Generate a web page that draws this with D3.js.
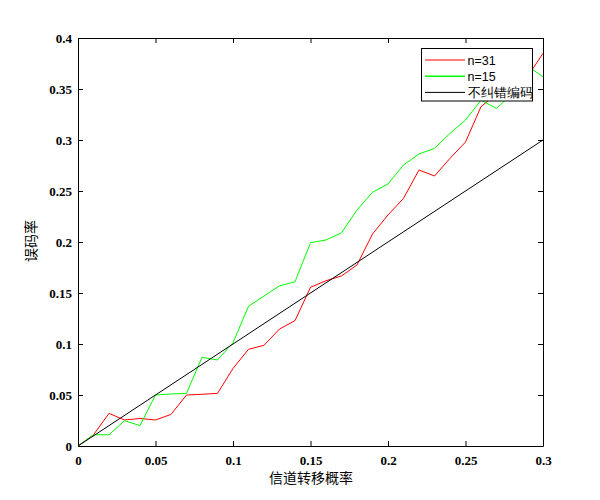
<!DOCTYPE html>
<html><head><meta charset="utf-8">
<script src="https://cdn.jsdelivr.net/npm/d3@7"></script>
<style>body{margin:0;background:#fff}svg{display:block}</style>
</head><body>
<script>
const xs = [0,0.01,0.02,0.03,0.04,0.05,0.06,0.07,0.08,0.09,0.10,0.11,0.12,0.13,0.14,0.15,0.16,0.17,0.18,0.19,0.20,0.21,0.22,0.23,0.24,0.25,0.26,0.27,0.28,0.29,0.30];
const n31 = [0,0.011,0.032,0.0255,0.027,0.0255,0.031,0.050,0.0507,0.0516,0.076,0.0948,0.0987,0.1147,0.1229,0.1556,0.162,0.1667,0.1775,0.2078,0.2265,0.2428,0.2706,0.2647,0.282,0.298,0.3327,0.345,0.35,0.362,0.385];
const n15 = [0,0.011,0.011,0.0248,0.020,0.050,0.051,0.0516,0.087,0.0843,0.1013,0.137,0.147,0.157,0.161,0.1993,0.202,0.209,0.2314,0.2487,0.2569,0.2755,0.2863,0.2918,0.3065,0.3196,0.339,0.331,0.345,0.3725,0.362];
const uncoded = [0,0.30];
const uncodedX = [0,0.30];
const xTicks = [0,0.05,0.1,0.15,0.2,0.25,0.3];
const yTicks = [0,0.05,0.1,0.15,0.2,0.25,0.3,0.35,0.4];
const legendNames = ["n=31","n=15","不纠错编码"];
const colors = ["#ff0000","#00ff00","#000000"];

const W=600,H=500;
const L=78,R=543,T=38,B=446;
const svg=d3.select("body").append("svg").attr("width",W).attr("height",H);
const x=d3.scaleLinear().domain([0,0.3]).range([L,R]);
const y=d3.scaleLinear().domain([0,0.4]).range([B,T]);

const fmt=d=>d===0?"0":String(+d.toFixed(2)).replace(/^0\./,"0.");
// axes
const xa=svg.append("g").attr("transform",`translate(0,${B})`)
 .call(d3.axisBottom(x).tickValues(xTicks).tickFormat(fmt).tickSizeInner(-5).tickSizeOuter(0).tickPadding(10));
const xt=svg.append("g").attr("transform",`translate(0,${T})`)
 .call(d3.axisTop(x).tickValues(xTicks).tickFormat("").tickSizeInner(-5).tickSizeOuter(0));
const ya=svg.append("g").attr("transform",`translate(${L},0)`)
 .call(d3.axisLeft(y).tickValues(yTicks).tickFormat(fmt).tickSizeInner(-5).tickSizeOuter(0).tickPadding(6));
const yr=svg.append("g").attr("transform",`translate(${R},0)`)
 .call(d3.axisRight(y).tickValues(yTicks).tickFormat("").tickSizeInner(-5).tickSizeOuter(0));
[xa,xt,ya,yr].forEach(g=>{
  g.select(".domain").attr("stroke","#000").attr("stroke-width",1);
  g.selectAll(".tick line").attr("stroke","#000");
  g.selectAll("text").attr("font-family","Liberation Serif, serif").attr("font-weight","bold")
   .attr("font-size",13).attr("fill","#000");
});
xa.selectAll(".tick text").attr("transform","scale(1,1)");

// lines
const line=d3.line().x(d=>x(d[0])).y(d=>y(d[1]));
const series=[xs.map((v,i)=>[v,n31[i]]), xs.map((v,i)=>[v,n15[i]]), uncodedX.map((v,i)=>[v,uncoded[i]])];
series.forEach((s,i)=>{
  svg.append("path").datum(s).attr("d",line).attr("fill","none").attr("stroke",colors[i]).attr("stroke-width",1);
});

// legend
const lg=svg.append("g");
lg.append("rect").attr("x",421.5).attr("y",48.5).attr("width",111).attr("height",52.5)
  .attr("fill","#fff").attr("stroke","#000").attr("stroke-width",1);
legendNames.forEach((n,i)=>{
  const yy=60+i*16.2;
  lg.append("line").attr("x1",425).attr("x2",465).attr("y1",yy).attr("y2",yy)
    .attr("stroke",colors[i]).attr("stroke-width",i===1?1.5:1);
  lg.append("text").attr("x",467.5).attr("y",yy).attr("dy","0.36em")
    .attr("font-family","Liberation Sans, Arial, sans-serif").attr("font-size",12.5).attr("fill","#000").text(n);
});

// axis labels
svg.append("text").attr("x",311).attr("y",478).attr("dy","0.36em").attr("text-anchor","middle")
  .attr("font-family","Noto Sans CJK SC, sans-serif").attr("font-size",14).text("信道转移概率");
svg.append("text").attr("transform","translate(31,241) rotate(-90)").attr("dy","0.36em").attr("text-anchor","middle")
  .attr("font-family","Noto Sans CJK SC, sans-serif").attr("font-size",14).text("误码率");
</script>
</body></html>
